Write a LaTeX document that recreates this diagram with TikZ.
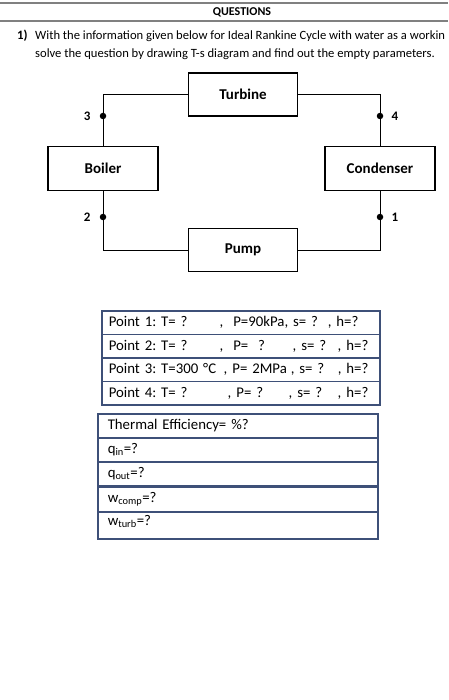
\documentclass[tikz,border=0pt]{standalone}
\usepackage{fontspec}
\setmainfont{Carlito}
\usepackage{tikz}
\usetikzlibrary{positioning}
\definecolor{tblblue}{RGB}{62,80,120}
\definecolor{hdrgray}{RGB}{128,128,128}
\tikzset{
  unit/.style = {draw, line width=1.8pt, minimum width=109pt, minimum height=43pt, inner sep=0pt, font=\fontsize{15}{17}\selectfont\bfseries},
  pipe/.style = {line width=0.9pt},
  state/.style = {circle, fill, inner sep=0pt, minimum size=6.5pt},
  state label/.style = {inner sep=0pt, font=\fontsize{13}{15}\selectfont\bfseries},
  prow/.style = {draw=tblblue, line width=1.5pt, anchor=north west, minimum height=23.5pt, inner xsep=7pt, inner ysep=0pt, text width=264pt, align=left, font=\fontsize{14.8}{17}\selectfont\frenchspacing},
  rrow/.style = {draw=tblblue, line width=1.5pt, anchor=north west, minimum height=24pt, inner xsep=10pt, inner ysep=0pt, text width=260pt, align=left, font=\fontsize{14.8}{17}\selectfont\frenchspacing}
}
\newcommand{\Seg}[2]{\makebox[#1pt][l]{#2}}
\begin{document}
\begin{tikzpicture}[x=1pt,y=-1pt]
\useasboundingbox (0,0) rectangle (448,700);
\clip (0,0) rectangle (448,700);
% header
\draw[hdrgray, line width=1.5pt] (0,3) -- (448,3);
\draw[hdrgray, line width=2pt] (0,21) -- (448,21);
\node[font=\fontsize{12}{14}\selectfont\bfseries] (title) at (242,12) {QUESTIONS};
\node[anchor=base west, inner sep=0pt, font=\fontsize{12.8}{14}\selectfont\bfseries] (qnum) at (17,40) {1)};
\node[anchor=base west, inner sep=0pt, font=\fontsize{12.6}{14}\selectfont] (qline1) at (35,40) {With the information given below for Ideal Rankine Cycle with water as a workin};
\node[anchor=base west, inner sep=0pt, font=\fontsize{12.6}{14}\selectfont] (qline2) at (35,58) {solve the question by drawing T-s diagram and find out the empty parameters.};

% cycle
\node[unit] (turbine) at (243,94.5) {Turbine};
\node[unit, minimum width=110pt, minimum height=44pt] (boiler) at (103,168.5) {Boiler};
\node[unit, minimum width=110pt, minimum height=44pt] (condenser) at (380,168.5) {Condenser};
\node[unit] (pump) at (243,250) {Pump};

\node[state] (s3) at (103,116) {};
\node[state] (s2) at (103,217) {};
\node[state] (s4) at (380,116) {};
\node[state] (s1) at (380,217) {};
\node[state label, left=9pt of s3] (l3) {3};
\node[state label, left=9pt of s2] (l2) {2};
\node[state label, right=8pt of s4] (l4) {4};
\node[state label, right=8pt of s1] (l1) {1};

\draw[pipe] (boiler.north) -- (s3) |- (turbine.west);
\draw[pipe] (turbine.east) -| (s4) -- (condenser.north);
\draw[pipe] (condenser.south) -- (s1) |- (pump.east);
\draw[pipe] (pump.west) -| (s2) -- (boiler.south);

% state table
\node[prow] (pt1) at (101,310) {\Seg{111}{Point 1: T= ?}\Seg{108}{, \ P=90kPa, s= ?}, h=?};
\node[prow] (pt2) at (101,333.5) {\Seg{111}{Point 2: T= ?}\Seg{73}{, \ P= \ ?}\Seg{45}{, s= ?}, h=?};
\node[prow] (pt3) at (101,357) {\Seg{115}{Point 3: T=300 °C}\Seg{67}{, P= 2MPa}\Seg{47}{, s= ?}, h=?};
\node[prow] (pt4) at (101,380.5) {\Seg{119}{Point 4: T= ?}\Seg{61}{, P= ?}\Seg{49}{, s= ?}, h=?};

% results table
\node[rrow] (eff) at (97,413) {Thermal Efficiency= \%?};
\node[rrow] (qin) at (97,437) {q\textsubscript{in}=?};
\node[rrow] (qout) at (97,461) {q\textsubscript{out}=?};
\node[rrow, minimum height=25pt] (wcomp) at (97,486) {w\textsubscript{comp}=?};
\node[rrow, minimum height=27pt, text depth=10pt] (wturb) at (97,511) {w\textsubscript{turb}=?};
\end{tikzpicture}
\end{document}
